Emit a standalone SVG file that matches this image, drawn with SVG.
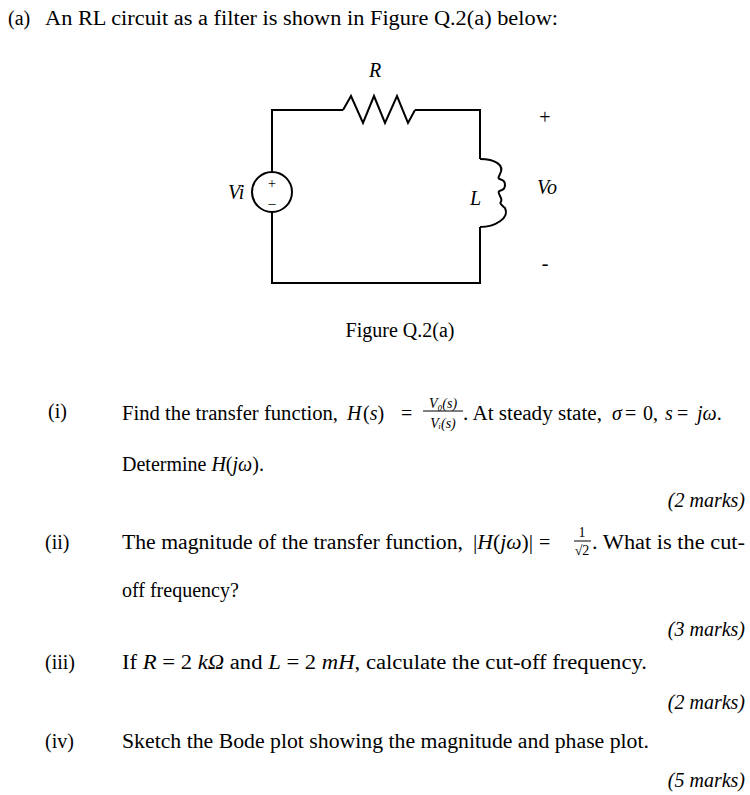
<svg xmlns="http://www.w3.org/2000/svg" width="750" height="795" viewBox="0 0 750 795">
<style>
text{font-family:"Liberation Serif","Times New Roman",serif;font-size:20px;fill:#000}
.i{font-style:italic}
.s{font-size:14px}
.w{fill:none;stroke:#000;stroke-width:2}
</style>
<rect width="750" height="795" fill="#fff"/>
<text x="8" y="25">(a)</text>
<text x="45" y="25" textLength="513" lengthAdjust="spacingAndGlyphs">An RL circuit as a filter is shown in Figure Q.2(a) below:</text>
<g id="wires">
<path class="w" d="M272,172 V110 H343 M415,110 H480 V159 M480,227 V283 H272 V212"/>
</g>
<g id="resistor"><path class="w" d="M343,110 L351,96 L363,123 L374,96 L385,123 L397,96 L408,123 L415,110"/></g>
<g id="source"><circle class="w" cx="272" cy="192" r="20"/>
<text x="272" y="188" text-anchor="middle" class="s">+</text><text x="272" y="208" text-anchor="middle" class="s">–</text></g>
<g id="inductor"><path class="w" d="M480,159 C495,159 505,165 500,174 C495,183 505,176 505,185 C505,194 495,187 500,196 C505,205 495,199 505,208 C510,218 495,227 480,227"/></g>
<text x="375" y="77" class="i" text-anchor="middle">R</text>
<text x="545" y="124" text-anchor="middle">+</text>
<text x="228" y="199" class="i">Vi</text>
<text x="470" y="205" class="i">L</text>
<text x="537" y="194" class="i">Vo</text>
<text x="545" y="270" text-anchor="middle">-</text>
<text x="400" y="337" text-anchor="middle">Figure Q.2(a)</text>

<text x="48" y="418">(i)</text>
<text x="122" y="420" textLength="216" lengthAdjust="spacingAndGlyphs">Find the transfer function,</text>
<text x="347" y="420" class="i">H</text><text x="363" y="420">(<tspan class="i">s</tspan>)</text><text x="401" y="420">=</text>
<text x="443" y="408" class="s i" text-anchor="middle">V₀(s)</text>
<line x1="423" y1="411" x2="463" y2="411" stroke="#000" stroke-width="1"/>
<text x="443" y="428" class="s i" text-anchor="middle">Vᵢ(s)</text>
<text x="463" y="420" textLength="139" lengthAdjust="spacingAndGlyphs">. At steady state,</text>
<text x="612" y="420" class="i">σ</text><text x="625" y="420">=</text><text x="643" y="420">0,</text>
<text x="665" y="420" class="i">s</text><text x="677" y="420">=</text><text x="697" y="420"><tspan class="i">jω</tspan>.</text>
<text x="122" y="471">Determine <tspan class="i">H</tspan>(<tspan class="i">jω</tspan>).</text>
<text x="745" y="507" class="i" text-anchor="end">(2 marks)</text>

<text x="45" y="549">(ii)</text>
<text x="122" y="549" textLength="341" lengthAdjust="spacingAndGlyphs">The magnitude of the transfer function,</text>
<text x="473" y="549" textLength="60" lengthAdjust="spacingAndGlyphs">|<tspan class="i">H</tspan>(<tspan class="i">jω</tspan>)|</text>
<text x="539" y="549">=</text>
<text x="582" y="537" class="s" text-anchor="middle">1</text>
<line x1="574" y1="541" x2="591" y2="541" stroke="#000" stroke-width="1"/>
<text x="582" y="555" class="s" text-anchor="middle">√2</text>
<text x="592" y="549" textLength="153" lengthAdjust="spacingAndGlyphs">. What is the cut-</text>
<text x="122" y="597">off frequency?</text>
<text x="745" y="636" class="i" text-anchor="end">(3 marks)</text>

<text x="45" y="669">(iii)</text>
<text x="122" y="669" textLength="525" lengthAdjust="spacingAndGlyphs">If <tspan class="i">R</tspan> = 2 <tspan class="i">kΩ</tspan> and <tspan class="i">L</tspan> = 2 <tspan class="i">mH</tspan>, calculate the cut-off frequency.</text>
<text x="745" y="709" class="i" text-anchor="end">(2 marks)</text>

<text x="45" y="748">(iv)</text>
<text x="122" y="748" textLength="527" lengthAdjust="spacingAndGlyphs">Sketch the Bode plot showing the magnitude and phase plot.</text>
<text x="745" y="787" class="i" text-anchor="end">(5 marks)</text>
</svg>
